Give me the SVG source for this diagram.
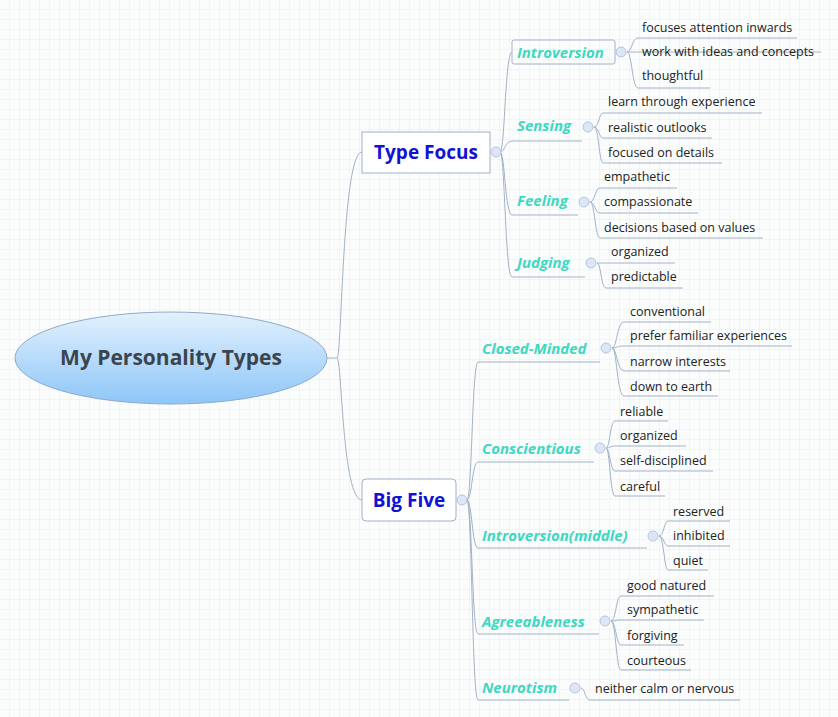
<svg xmlns="http://www.w3.org/2000/svg" width="838" height="717" viewBox="0 0 838 717">
<defs>
<pattern id="g" width="10" height="10" patternUnits="userSpaceOnUse"><path d="M10 0V10H0" fill="none" stroke="#dfeef2" stroke-width="1"/></pattern>
<linearGradient id="rg" x1="0" y1="0" x2="0" y2="1"><stop offset="0" stop-color="#e2f1fd"/><stop offset="1" stop-color="#8ec6f8"/></linearGradient>
<style>
.l{fill:none;stroke:#a3b1c6;stroke-width:1}
.c{fill:#dde6f5;stroke:#b4c4e0;stroke-width:1}
.t{font-family:"Open Sans","DejaVu Sans",sans-serif;font-size:12.5px;fill:#222}
.s{font-family:"Open Sans","DejaVu Sans",sans-serif;font-size:15px;font-weight:bold;font-style:italic;fill:#3ed8c0}
.m{font-family:"Open Sans","DejaVu Sans",sans-serif;font-size:19px;font-weight:bold;fill:#1212d2}
</style>
</defs>
<rect width="838" height="717" fill="#fbfdfd"/>
<rect width="838" height="717" fill="url(#g)"/>
<g id="connectors">
<path class="l" d="M327 358H337C342 358 342 152 362 152"/>
<path class="l" d="M337 358C342 358 342 500 362 500"/>
<path class="l" d="M500 152C505 152 505 52 512 52"/>
<path class="l" d="M500 152C505 152 505 141 512 141H582"/>
<path class="l" d="M500 152C505 152 505 215 512 215H578"/>
<path class="l" d="M500 152C505 152 505 277 512 277H585"/>
<path class="l" d="M627 52C632 52 632 38 638 38H797M627 52H638 821M627 52C632 52 632 88 638 88H710"/>
<path class="l" d="M594 127C599 127 599 113 603 113H762M594 127C599 127 599 138 603 138H712M594 127C599 127 599 163 603 163H722"/>
<path class="l" d="M590 202C595 202 595 188 600 188H677M590 202C595 202 595 213 600 213H698M590 202C595 202 595 238 600 238H763"/>
<path class="l" d="M597 263C601 263 601 263 604 263H675M597 263C601 263 601 288 606 288H683"/>
<path class="l" d="M467 500C472 500 472 362 478 362H600"/>
<path class="l" d="M467 500C472 500 472 462 478 462H594"/>
<path class="l" d="M467 500C472 500 472 548 478 548H647"/>
<path class="l" d="M467 500C472 500 472 634 478 634H599"/>
<path class="l" d="M467 500C472 500 472 700 478 700H569"/>
<path class="l" d="M612 348C617 348 617 322 624 322H711M612 348C617 348 617 346 624 346H792M612 348C617 348 617 371 624 371H730M612 348C617 348 617 396 624 396H718"/>
<path class="l" d="M606 448C610 448 610 421 615 421H668M606 448C610 448 610 446 615 446H686M606 448C610 448 610 471 615 471H713M606 448C610 448 610 496 615 496H665"/>
<path class="l" d="M659 536C664 536 664 521 668 521H730M659 536C664 536 664 546 668 546H730M659 536C664 536 664 570 668 570H708"/>
<path class="l" d="M611 621C616 621 616 596 621 596H714M611 621C616 621 616 620 621 620H704M611 621C616 621 616 645 621 645H684M611 621C616 621 616 670 621 670H691"/>
<path class="l" d="M581 688C585 688 585 700 590 700H740"/>
</g>
<g id="root"><ellipse cx="171" cy="358" rx="156" ry="46" fill="url(#rg)" stroke="#8fa9c8"/><text x="171" y="365" text-anchor="middle" font-family="Open Sans,DejaVu Sans,sans-serif" font-size="21" font-weight="bold" fill="#3c444e">My Personality Types</text></g>
<g id="typefocus"><rect x="362" y="132" width="128" height="41" fill="#fff" stroke="#9fb0c8"/><text class="m" x="426" y="159" text-anchor="middle">Type Focus</text><circle class="c" cx="496" cy="152" r="5"/></g>
<g id="bigfive"><rect x="362" y="479" width="94" height="42" rx="4" fill="#fff" stroke="#9fb0c8"/><text class="m" x="409" y="507" text-anchor="middle">Big Five</text><circle class="c" cx="462" cy="500" r="5"/></g>
<g id="introversion"><rect x="512" y="40" width="103" height="24" rx="2" fill="none" stroke="#a3b1c6"/><text class="s" x="517" y="58">Introversion</text><circle class="c" cx="621" cy="52" r="5"/>
<text class="t" x="642" y="32">focuses attention inwards</text><text class="t" x="642" y="56">work with ideas and concepts</text><text class="t" x="642" y="80">thoughtful</text></g>
<g id="sensing"><text class="s" x="517" y="131">Sensing</text><circle class="c" cx="588" cy="127" r="5"/>
<text class="t" x="608" y="106">learn through experience</text><text class="t" x="608" y="132">realistic outlooks</text><text class="t" x="608" y="157">focused on details</text></g>
<g id="feeling"><text class="s" x="517" y="206">Feeling</text><circle class="c" cx="584" cy="202" r="5"/>
<text class="t" x="604" y="181">empathetic</text><text class="t" x="604" y="206">compassionate</text><text class="t" x="604" y="232">decisions based on values</text></g>
<g id="judging"><text class="s" x="517" y="268">Judging</text><circle class="c" cx="591" cy="263" r="5"/>
<text class="t" x="611" y="256">organized</text><text class="t" x="611" y="281">predictable</text></g>
<g id="closedminded"><text class="s" x="482" y="354">Closed-Minded</text><circle class="c" cx="606" cy="348" r="5"/>
<text class="t" x="630" y="316">conventional</text><text class="t" x="630" y="340">prefer familiar experiences</text><text class="t" x="630" y="366">narrow interests</text><text class="t" x="630" y="391">down to earth</text></g>
<g id="conscientious"><text class="s" x="482" y="454">Conscientious</text><circle class="c" cx="600" cy="448" r="5"/>
<text class="t" x="620" y="416">reliable</text><text class="t" x="620" y="440">organized</text><text class="t" x="620" y="465">self-disciplined</text><text class="t" x="620" y="491">careful</text></g>
<g id="introversionmiddle"><text class="s" x="482" y="541">Introversion(middle)</text><circle class="c" cx="653" cy="536" r="5"/>
<text class="t" x="673" y="516">reserved</text><text class="t" x="673" y="540">inhibited</text><text class="t" x="673" y="565">quiet</text></g>
<g id="agreeableness"><text class="s" x="482" y="627">Agreeableness</text><circle class="c" cx="605" cy="621" r="5"/>
<text class="t" x="627" y="590">good natured</text><text class="t" x="627" y="614">sympathetic</text><text class="t" x="627" y="640">forgiving</text><text class="t" x="627" y="665">courteous</text></g>
<g id="neurotism"><text class="s" x="482" y="693">Neurotism</text><circle class="c" cx="575" cy="688" r="5"/>
<text class="t" x="595" y="693">neither calm or nervous</text></g>
</svg>
